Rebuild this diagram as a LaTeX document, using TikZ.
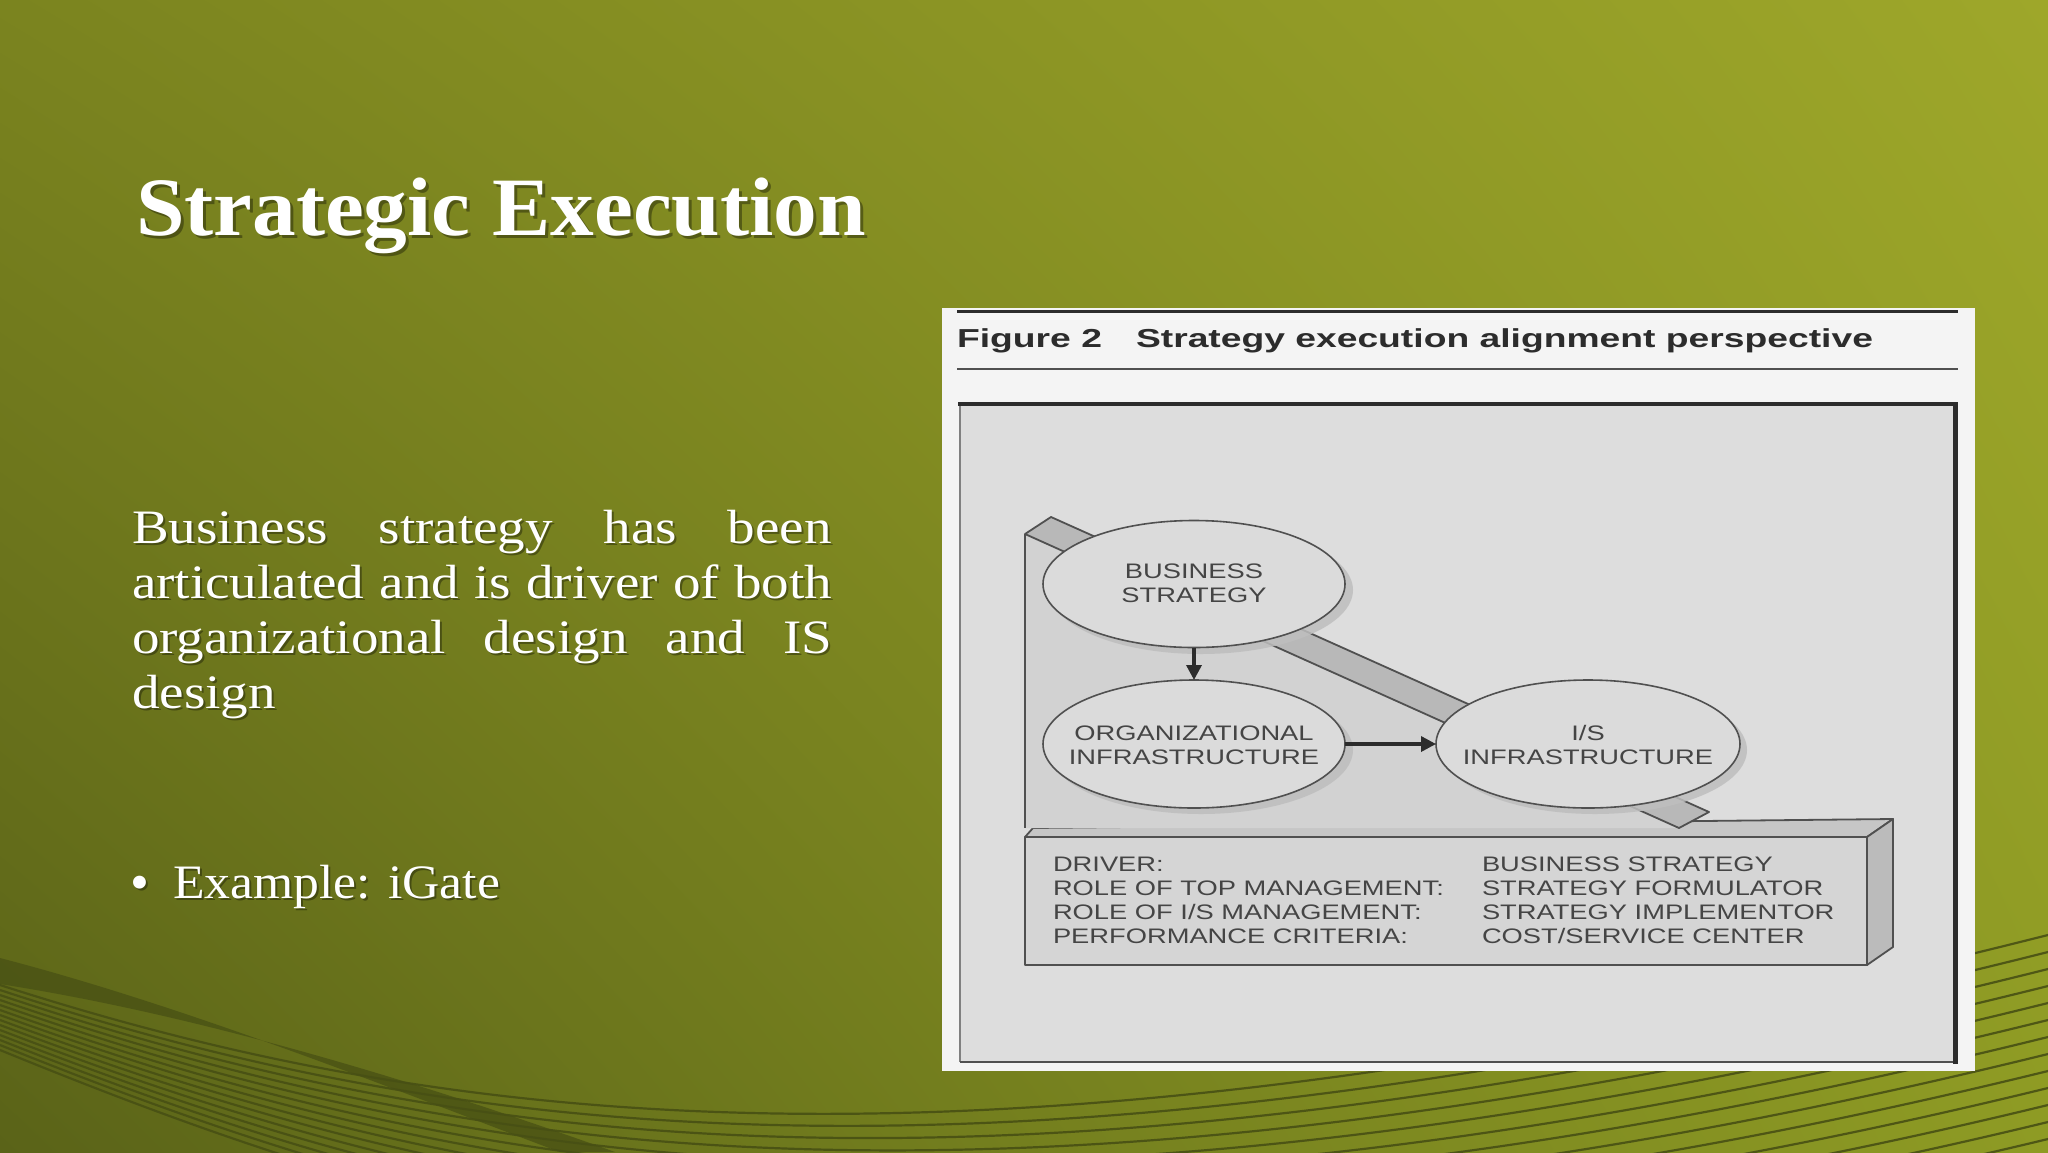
\documentclass[tikz,border=0pt]{standalone}
\usepackage{fontspec}
\setmainfont{Liberation Serif}
\newfontfamily\figsans{Liberation Sans}
\usetikzlibrary{arrows.meta,shapes.geometric,shadings}
\definecolor{bgUL}{HTML}{7B841F}
\definecolor{bgUR}{HTML}{9EA72A}
\definecolor{bgLL}{HTML}{5A6318}
\definecolor{bgLR}{HTML}{8E9B24}
\definecolor{swoosh}{HTML}{485014}
\definecolor{paper}{HTML}{F4F4F4}
\definecolor{panel}{HTML}{DDDDDD}
\definecolor{plane}{HTML}{D2D2D2}
\definecolor{bandc}{HTML}{B8B8B8}
\definecolor{ink}{HTML}{505050}
\definecolor{darkink}{HTML}{2C2C2C}
\definecolor{ellfill}{HTML}{DBDBDB}
\definecolor{shadowgray}{HTML}{BEBEBE}
\definecolor{figtext}{HTML}{454545}
\definecolor{boxfront}{HTML}{D5D5D5}
\definecolor{boxtop}{HTML}{C6C6C6}
\definecolor{boxside}{HTML}{BBBBBB}
\begin{document}
\begin{tikzpicture}[x=1pt,y=-1pt,
  slide/.style={anchor=base west, inner sep=0, outer sep=0, text=white, font=\fontsize{48}{56}\selectfont},
  slidesh/.style={slide, text=black, opacity=.35},
  titlef/.style={anchor=base west, inner sep=0, outer sep=0, text=white, font=\bfseries\fontsize{83}{90}\selectfont},
  titlesh/.style={titlef, text=black, opacity=.35},
  ell/.style={ellipse, draw=ink, line width=1.6pt, fill=ellfill, inner sep=0, outer sep=0, minimum width=302pt, minimum height=127pt},
  ellsh/.style={ellipse, fill=shadowgray, inner sep=0, minimum width=304pt, minimum height=128pt, opacity=.85},
  figt/.style={inner sep=0, outer sep=0, text=figtext, font=\figsans\fontsize{21}{24}\selectfont},
  capt/.style={anchor=base west, inner sep=0, outer sep=0, text=darkink, font=\figsans\bfseries\fontsize{26}{30}\selectfont},
  arr/.style={draw=darkink, line width=3.4pt, -{Triangle[length=15pt,width=15pt]}},
  swl/.style={draw=swoosh, line width=2.2pt, opacity=.9},
  fedge/.style={draw=ink, line width=1.8pt, line join=round}
]
\useasboundingbox (0,0) rectangle (2048,1152);
% background
\shade[upper left=bgUL, upper right=bgUR, lower left=bgLL, lower right=bgLR] (0,0) rectangle (2048,1152);
% swoosh band and lines
\fill[swoosh, opacity=.75] (0,958) .. controls (200,1010) and (420,1100) .. (560,1152)
  -- (615,1152) .. controls (470,1100) and (230,1020) .. (0,984) -- cycle;
\foreach \i in {0,...,13} {
  \draw[swl] (0,{985+5*\i}) .. controls (450,{1130+8*\i}) and (1000,{1200+16*\i}) .. (2048,{935+17*\i});
}
% title
\node[titlesh] (titleS) at (139,238) {\resizebox{730pt}{\height}{Strategic Execution}};
\node[titlef] (title) at (136,235) {\resizebox{730pt}{\height}{Strategic Execution}};
% body text
\node[slidesh] (l1s) at (134,545) {\resizebox{700pt}{\height}{\makebox[610pt][s]{Business strategy has been}}};
\node[slide] (l1) at (132,543) {\resizebox{700pt}{\height}{\makebox[610pt][s]{Business strategy has been}}};
\node[slidesh] (l2s) at (134,600) {\resizebox{700pt}{\height}{\makebox[610pt][s]{articulated and is driver of both}}};
\node[slide] (l2) at (132,598) {\resizebox{700pt}{\height}{\makebox[610pt][s]{articulated and is driver of both}}};
\node[slidesh] (l3s) at (134,655) {\resizebox{700pt}{\height}{\makebox[610pt][s]{organizational design and IS}}};
\node[slide] (l3) at (132,653) {\resizebox{700pt}{\height}{\makebox[610pt][s]{organizational design and IS}}};
\node[slidesh] (l4s) at (134,710) {\scalebox{1.148}[1]{design}};
\node[slide] (l4) at (132,708) {\scalebox{1.148}[1]{design}};
\node[slidesh, font=\fontsize{54}{60}\selectfont] (buls) at (132,902) {\textbullet};
\node[slide, font=\fontsize{54}{60}\selectfont] (bul) at (130,900) {\textbullet};
\node[slidesh] (exs) at (175,900) {\resizebox{327pt}{\height}{Example: iGate}};
\node[slide] (ex) at (173,898) {\resizebox{327pt}{\height}{Example: iGate}};
% figure paper
\fill[paper] (942,308) rectangle (1975,1071);
\draw[darkink, line width=3pt] (957,311) -- (1958,311);
\draw[ink, line width=2pt] (957,369) -- (1958,369);
\node[capt] (cap1) at (957,347) {\resizebox{145pt}{\height}{Figure 2}};
\node[capt] (cap2) at (1136,347) {\resizebox{737pt}{\height}{Strategy execution alignment perspective}};
% panel
\fill[panel] (960,404) rectangle (1955,1062);
\draw[gray, line width=1.5pt] (960,404) -- (960,1062);
\draw[ink, line width=2.5pt] (960,1062) -- (1955,1062);
\draw[darkink, line width=3.5pt] (958,404) -- (1955,404);
\draw[darkink, line width=5pt] (1955,402) -- (1955,1064);
% box (horizontal plank)
\filldraw[fedge, fill=boxtop] (1025,837) -- (1867,837) -- (1893,819) -- (1033,828) -- cycle;
\filldraw[fedge, fill=boxside] (1867,837) -- (1893,819) -- (1893,947) -- (1867,965) -- cycle;
\filldraw[fedge, fill=boxfront] (1025,837) rectangle (1867,965);
% vertical plane (triangle)
\fill[plane] (1025,534) -- (1679,828) -- (1025,828) -- cycle;
\draw[fedge] (1025,534) -- (1025,828);
% diagonal band
\filldraw[fedge, fill=bandc] (1025,534) -- (1051,517) -- (1709,812) -- (1679,828) -- cycle;
% ellipse shadows
\node[ellsh] (bsS) at (1201,590) {};
\node[ellsh] (orgS) at (1201,750) {};
\node[ellsh] (isS) at (1595,750) {};
% ellipses
\node[ell] (bs) at (1194,584) {};
\node[ell, minimum height=128pt] (org) at (1194,744) {};
\node[ell, minimum width=304pt, minimum height=128pt] (is) at (1588,744) {};
% arrows
\draw[arr] (bs.south) -- (org.north);
\draw[arr] (org.east) -- (is.west);
% ellipse texts
\node[figt] (bsT) at (1194,586) {\scalebox{1.3}[1]{\begin{tabular}{@{}c@{}}BUSINESS\\STRATEGY\end{tabular}}};
\node[figt] (orgT) at (1194,748) {\scalebox{1.3}[1]{\begin{tabular}{@{}c@{}}ORGANIZATIONAL\\INFRASTRUCTURE\end{tabular}}};
\node[figt] (isT) at (1588,748) {\scalebox{1.3}[1]{\begin{tabular}{@{}c@{}}I/S\\INFRASTRUCTURE\end{tabular}}};
% box texts
\node[figt, anchor=base west] (boxL) at (1053,871) {\scalebox{1.3}[1]{\begin{tabular}[t]{@{}l@{}}DRIVER:\\ROLE OF TOP MANAGEMENT:\\ROLE OF I/S MANAGEMENT:\\PERFORMANCE CRITERIA:\end{tabular}}};
\node[figt, anchor=base west] (boxR) at (1482,871) {\scalebox{1.3}[1]{\begin{tabular}[t]{@{}l@{}}BUSINESS STRATEGY\\STRATEGY FORMULATOR\\STRATEGY IMPLEMENTOR\\COST/SERVICE CENTER\end{tabular}}};
\end{tikzpicture}
\end{document}
